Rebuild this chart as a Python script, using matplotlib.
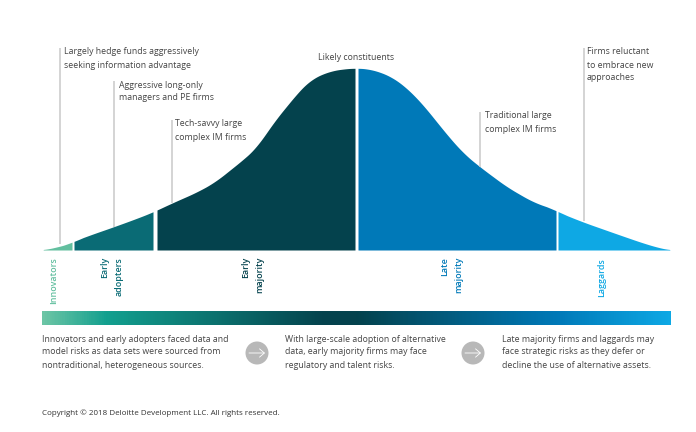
import numpy as np
import matplotlib
matplotlib.use("Agg")
import matplotlib.pyplot as plt
from matplotlib.colors import LinearSegmentedColormap
from matplotlib.patches import Circle

plt.rcParams['font.family'] = ['Open Sans', 'DejaVu Sans']

# adoption curve (pixel positions of the original)
curve_x = [43, 55, 72, 74, 90, 113, 135, 153, 157, 172, 197, 215, 230, 245, 257, 273, 290, 300, 310,
           320, 330, 342, 355, 358, 370, 380, 392, 403, 413, 423, 433, 443, 463, 480, 507, 533, 556,
           558, 583, 600, 617, 643, 660, 670]
curve_y = [250, 247.5, 243, 241, 235, 227, 219, 212, 210, 203, 192, 182, 170, 158, 147, 123, 102, 90, 80,
           75, 71, 69, 68, 68, 69, 72, 77, 85, 94, 105, 117, 130, 153, 167, 187, 202, 210,
           212, 222, 228, 234, 243, 248, 250]
baseline = 250

seg_names = ["Innovators", "Early adopters", "Early majority", "Late majority", "Laggards"]
seg_start = [43, 74, 157, 358, 558]
seg_end = [72, 153, 355, 556, 670]
seg_colors = ["#62bf9f", "#0a6b75", "#04424d", "#0079b8", "#0ea8e4"]

# vertical leader lines: x, top y, bottom y
lead_x = [60, 114, 172, 480, 584]
lead_top = [48, 81, 120, 112, 48]
lead_bottom = [244, 227, 203, 167, 221]

callouts = [
    (64, 52, "Largely hedge funds aggressively"),
    (64, 65, "seeking information advantage"),
    (119, 85, "Aggressive long-only"),
    (119, 98, "managers and PE firms"),
    (175, 124, "Tech-savvy large"),
    (175, 137, "complex IM firms"),
    (318, 58, "Likely constituents"),
    (485, 116, "Traditional large"),
    (485, 129, "complex IM firms"),
    (587, 52, "Firms reluctant"),
    (587, 65, "to embrace new"),
    (587, 78, "approaches"),
]

# rotated group labels
rot_labels = [
    (54, 257, "Innovators", "#62bf9f"),
    (112, 257, "Early\nadopters", "#0a6b75"),
    (253, 257, "Early\nmajority", "#04424d"),
    (452, 257, "Late\nmajority", "#0079b8"),
    (602, 258, "Laggards", "#0ea8e4"),
]

body_text = [
    (42, 339, "Innovators and early adopters faced data and"),
    (42, 352, "model risks as data sets were sourced from"),
    (42, 365, "nontraditional, heterogeneous sources."),
    (285, 339, "With large-scale adoption of alternative"),
    (285, 352, "data, early majority firms may face"),
    (285, 365, "regulatory and talent risks."),
    (502, 339, "Late majority firms and laggards may"),
    (502, 352, "face strategic risks as they defer or"),
    (502, 365, "decline the use of alternative assets."),
]

bar_colors = ["#6cc5a5", "#13a08f", "#04424d", "#04424d", "#0079b8", "#0ea8e4"]
bar_stops = [0, 0.1, 0.45, 0.5, 0.82, 1]
arrow_x = [257, 473]

fig = plt.figure(figsize=(6.96, 4.32), dpi=100)
ax = fig.add_axes([0, 0, 1, 1])
ax.set_xlim(0, 696)
ax.set_ylim(432, 0)
ax.axis("off")

# smooth the read points a little so the outline has no corners
dense_x = np.arange(curve_x[0], curve_x[-1] + 0.5, 0.5)
dense_y = np.interp(dense_x, curve_x, curve_y)
kernel = np.ones(41) / 41
dense_y = np.convolve(np.pad(dense_y, 20, mode="edge"), kernel, mode="valid")
dense_y[0] = dense_y[-1] = baseline

for s, e, c in zip(seg_start, seg_end, seg_colors):
    keep = (dense_x >= s) & (dense_x <= e)
    ax.fill_between(dense_x[keep], dense_y[keep], baseline, color=c, lw=0)

for x, t, b in zip(lead_x, lead_top, lead_bottom):
    ax.plot([x, x], [t, b], color="#c9c9c9", lw=1.1, solid_capstyle="butt")

for x, y, s in callouts:
    ax.text(x, y, s, fontsize=6.35, color="#444444", va="center", ha="left")

for x, y, s, c in rot_labels:
    ax.text(x, y, s, fontsize=6.4, color=c, rotation=90, va="top", ha="center",
            fontweight="semibold", linespacing=1.75, multialignment="right")

# gradient bar
cmap = LinearSegmentedColormap.from_list("bar", list(zip(bar_stops, bar_colors)))
grad = np.linspace(0, 1, 600).reshape(1, -1)
ax.imshow(grad, cmap=cmap, extent=[42, 671, 325, 311], aspect="auto", zorder=2)
ax.set_xlim(0, 696)
ax.set_ylim(432, 0)

for x, y, s in body_text:
    ax.text(x, y, s, fontsize=6.3, color="#444444", va="center", ha="left")

# arrows
for x in arrow_x:
    ax.add_patch(Circle((x, 353), 11.5, color="#b8b8b8", lw=0))
    ax.annotate("", xy=(x + 8, 353), xytext=(x - 8, 353),
                arrowprops=dict(arrowstyle="->,head_length=0.35,head_width=0.3", color="white",
                                lw=0.6, mutation_scale=10, shrinkA=0, shrinkB=0))

ax.text(42, 413, "Copyright \u00a9 2018 Deloitte Development LLC. All rights reserved.",
        fontsize=5.8, color="#333333", va="center", ha="left")

fig.savefig("out.png", dpi=100)
